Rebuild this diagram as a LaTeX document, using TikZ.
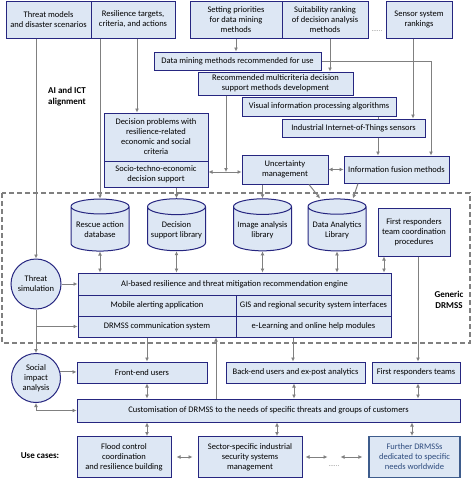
\documentclass[tikz,border=0pt]{standalone}
\usepackage{fontspec}
\setmainfont{Carlito}
\usetikzlibrary{positioning}
\usetikzlibrary{arrows.meta,shapes}
\usetikzlibrary{calc}
\definecolor{boxfill}{RGB}{221,231,244}
\definecolor{boxline}{RGB}{38,38,128}
\definecolor{arrgray}{RGB}{128,128,128}
\definecolor{furline}{RGB}{62,92,140}
\definecolor{furtext}{RGB}{45,75,125}

\begin{document}
\begin{tikzpicture}[x=1pt,y=-1pt,
  box/.style={draw=boxline,fill=boxfill,line width=1pt,align=center,inner sep=1pt,font=\fontsize{8.5}{10}\selectfont},
  disk/.style={cylinder,shape border rotate=90,aspect=0.3,draw=boxline,fill=boxfill,line width=1pt,align=center,inner sep=1pt,minimum width=58pt,minimum height=52pt,font=\fontsize{8.5}{10}\selectfont},
  disc/.style={circle,draw=boxline,fill=boxfill,line width=1pt,align=center,inner sep=0pt,font=\fontsize{8.5}{10}\selectfont},
  furbox/.style={box,draw=furline,text=furtext,line width=1.3pt},
  arr/.style={draw=arrgray,line width=1pt,-{Latex[length=4pt,width=4pt]}},
  darr/.style={draw=arrgray,line width=1pt,{Latex[length=4pt,width=4pt]}-{Latex[length=4pt,width=4pt]}},
  link/.style={draw=arrgray,line width=1pt},
  lbl/.style={font=\fontsize{9}{11}\selectfont\bfseries,align=center},
  dotlbl/.style={font=\fontsize{7}{8}\selectfont,text=arrgray,inner sep=1pt}]
\useasboundingbox (0,0) rectangle (474,479);

\draw[arrgray,line width=1.2pt,dash pattern=on 5pt off 3pt] (2,193) rectangle (470,343);

% top row
\node[box,minimum width=85pt,minimum height=37pt] (tm) at (48.5,19.5) {Threat models\\and disaster scenarios};
\node[box,minimum width=84pt,minimum height=37pt] (rt) at (133,19.5) {Resilience targets,\\criteria, and actions};
\node[box,minimum width=92pt,minimum height=37pt] (sp) at (236,19.5) {Setting priorities\\for data mining\\methods};
\node[box,minimum width=86pt,minimum height=37pt] (sr) at (325,19.5) {Suitability ranking\\of decision analysis\\methods};
\node[box,minimum width=66pt,minimum height=37pt] (ss) at (419,19.5) {Sensor system\\rankings};
\node[dotlbl] (dt1) at (377,31) {......};

\node[box,minimum width=167pt,minimum height=18pt] (dm) at (237.5,61) {Data mining methods recommended for use};
\node[box,minimum width=155pt,minimum height=23pt] (rm) at (275.5,83.5) {Recommended multicriteria decision\\support methods development};
\node[box,minimum width=154pt,minimum height=19pt] (vi) at (319,106.5) {Visual information processing algorithms};
\node[box,minimum width=143pt,minimum height=18pt] (iot) at (353.5,128) {Industrial Internet-of-Things sensors};
\node[box,minimum width=104pt,minimum height=48pt] (dp) at (156,137) {Decision problems with\\resilience-related\\economic and social\\criteria};
\node[box,minimum width=104pt,minimum height=26pt] (dts) at (156,174) {Socio-techno-economic\\decision support};
\node[box,minimum width=86pt,minimum height=29pt] (um) at (285,169.5) {Uncertainty\\management};
\node[box,minimum width=105pt,minimum height=27pt] (ifm) at (396.5,169.5) {Information fusion methods};
\node[lbl] (ict) at (67,97) {AI and ICT\\alignment};

% generic DRMSS
\node[disk] (rad) at (100,230) {Rescue action\\database};
\node[disk] (dsl) at (176.5,230) {Decision\\support library};
\node[disk] (ial) at (262.5,230) {Image analysis\\library};
\node[disk] (dal) at (337,230) {Data Analytics\\Library};
\node[box,minimum width=72pt,minimum height=48pt] (frc) at (414,232) {First responders\\team coordination\\procedures};
\node[disc,minimum size=50pt] (ts) at (36,284) {Threat\\simulation};
\node[box,minimum width=313pt,minimum height=22pt] (eng) at (234.5,284) {AI-based resilience and threat mitigation recommendation engine};
\node[box,minimum width=158pt,minimum height=21pt] (mal) at (157,305.5) {Mobile alerting application};
\node[box,minimum width=155pt,minimum height=21pt] (gis) at (313.5,305.5) {GIS and regional security system interfaces};
\node[box,minimum width=158pt,minimum height=21pt] (dcs) at (157,326.5) {DRMSS communication system};
\node[box,minimum width=155pt,minimum height=21pt] (elm) at (313.5,326.5) {e-Learning and online help modules};
\node[lbl] (gen) at (449,300) {Generic\\DRMSS};

% users and use cases
\node[disc,minimum size=49pt] (sia) at (36,378) {Social\\impact\\analysis};
\node[box,minimum width=130pt,minimum height=21pt] (feu) at (142,372.5) {Front-end users};
\node[box,minimum width=139pt,minimum height=21pt] (beu) at (295.5,372.5) {Back-end users and ex-post analytics};
\node[box,minimum width=88pt,minimum height=21pt] (frt) at (416,372.5) {First responders teams};
\node[box,minimum width=383pt,minimum height=23pt] (cus) at (268.5,410.5) {Customisation of DRMSS to the needs of specific threats and groups of customers};
\node[box,minimum width=94pt,minimum height=41pt] (fcc) at (124,457) {Flood control\\coordination\\and resilience building};
\node[box,minimum width=104pt,minimum height=41pt] (ssm) at (250,457) {Sector-specific industrial\\security systems\\management};
\node[furbox,minimum width=91pt,minimum height=41pt] (fur) at (414.5,457) {Further DRMSSs\\dedicated to specific\\needs worldwide};
\node[dotlbl] (dt2) at (334,466) {......};
\node[lbl] (uc) at (40,456) {Use cases:};

% connectors
\draw[arr] (ts.north |- tm.south) -- (ts.north);
\draw[arr] (rad.north |- rt.south) -- (rad.north);
\draw[arr] (137,0 |- rt.south) -- (137,0 |- dp.north);
\draw[arr] (sp.south) -- (sp.south |- dm.north);
\draw[arr] (330,0 |- sr.south) -- (330,0 |- rm.north);
\draw[arr] (413,0 |- ss.south) -- (413,0 |- iot.north);
\draw[arr] (dm.east) -| (431,0 |- ifm.north);
\coordinate (jn) at (226,172);
\draw[arr] (jn |- rm.south) -- (jn);
\draw[darr] (dts.east |- jn) -- (um.west |- jn);
\draw[link] (378,0 |- vi.south) -- (378,0 |- iot.north);
\draw[arr] (378,0 |- iot.south) -- (378,0 |- ifm.north);
\draw[darr] (um.east) -- (ifm.west);
\draw[arr] (ial.north |- um.south) -- (ial.north);
\draw[arr] (309,0 |- um.south) -- (320,0 |- dal.north);
\draw[arr] (358,0 |- ifm.south) -- (353,0 |- dal.north);
\draw[arr] (dsl.north |- dts.south) -- (dsl.north);

\foreach \c in {rad,dsl,ial,dal}
  \draw[darr] (\c.south) -- (\c.south |- eng.north);
\draw[darr] (384,0 |- frc.south) -- (384,0 |- eng.north);
\draw[arr] (ts.east) -- (ts.east -| eng.west);
\draw[arr] (ts.south) -- (sia.north);
\draw[arr] (ts.south |- dcs.west) -- (dcs.west);
\draw[arr] (147,0 |- dcs.south) -- (147,0 |- feu.north);
\draw[arr] (216,0 |- cus.north) -- (216,0 |- dcs.south);
\draw[arr] (293,0 |- elm.south) -- (293,0 |- beu.north);
\draw[arr] (418,0 |- frc.south) -- (418,0 |- frt.north);

\draw[darr] (147,0 |- feu.south) -- (147,0 |- cus.north);
\draw[darr] (294,0 |- beu.south) -- (294,0 |- cus.north);
\draw[darr] (418,0 |- frt.south) -- (418,0 |- cus.north);
\draw[arr] (sia.14) -- (sia.14 -| feu.west);
\draw[darr] (sia.south) |- (cus.west);
\draw[darr] (147,0 |- cus.south) -- (147,0 |- fcc.north);
\draw[darr] (277,0 |- cus.south) -- (277,0 |- ssm.north);
\draw[darr] (412,0 |- cus.south) -- (412,0 |- fur.north);
\draw[darr,shorten <=5pt,shorten >=5pt] (fcc.east) -- (ssm.west);
\draw[darr,shorten <=3pt] (ssm.east) -- (ssm.east -| dt2.west);
\draw[darr,shorten >=6pt] (ssm.east -| dt2.east) -- (fur.west);
\end{tikzpicture}
\end{document}
